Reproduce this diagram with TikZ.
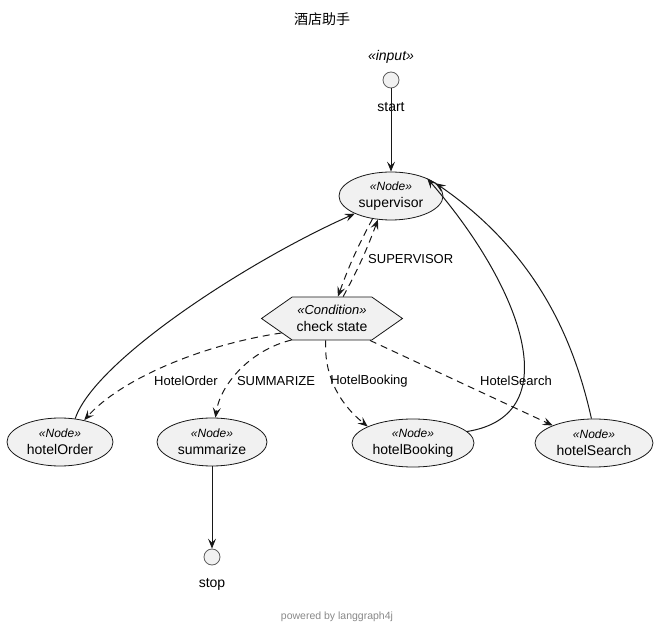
\documentclass[tikz,border=0pt]{standalone}
\usepackage{fontspec}
\setmainfont{Liberation Sans}
\newfontfamily\cjk{Noto Sans CJK SC}
\usetikzlibrary{shapes.geometric,shapes.symbols,arrows.meta}
\definecolor{nodefill}{HTML}{F1F1F1}
\definecolor{nodeline}{HTML}{181818}
\definecolor{footgray}{HTML}{888888}
\newcommand{\stlabel}[2][12]{{\fontsize{#1}{14}\selectfont\itshape «#2»}}

\begin{document}
\begin{tikzpicture}[x=1pt,y=-1pt,
                    every node/.style={font=\fontsize{14}{17}\selectfont},
                    graphnode/.style={ellipse,draw=nodeline,fill=nodefill,line width=0.8pt,inner sep=0pt,minimum height=48pt,align=center},
                    condnode/.style={signal,signal to=west and east,signal pointer angle=70,draw=nodeline,fill=nodefill,line width=0.8pt,inner sep=0pt,minimum width=141pt,minimum height=43pt,align=center},
                    endpoint/.style={circle,draw=nodeline!70,fill=nodefill,line width=0.8pt,inner sep=0pt,minimum size=16pt},
                    edgelabel/.style={font=\fontsize{13}{15}\selectfont,inner sep=1pt},
                    flow/.style={draw=nodeline,line width=1pt,-{Stealth[length=10pt,width=8pt,inset=4pt]}},
                    condflow/.style={flow,dash pattern=on 7pt off 5pt}
]
\useasboundingbox (0,0) rectangle (657,628);

% Draw the title
\node (title) at (322,19) {\cjk 酒店助手};

% Draw the start and stop points
\node [endpoint] at (391,80) (start) {};
\node at (391,57) (startst) {\stlabel[14]{input}};
\node at (391,107) (startlbl) {start};
\node [endpoint] at (212,557) (stop) {};
\node at (212,584) (stoplbl) {stop};

% Draw the graph nodes
\node [graphnode,minimum width=104pt] at (391,196) (super) {\stlabel{Node}\\supervisor};
\node [condnode] at (332,318.5) (check) {\stlabel[13]{Condition}\\check state};
\node [graphnode,minimum width=106pt] at (60,442) (order) {\stlabel{Node}\\hotelOrder};
\node [graphnode,minimum width=110pt] at (212,442) (summ) {\stlabel{Node}\\summarize};
\node [graphnode,minimum width=122pt] at (413,443) (booking) {\stlabel{Node}\\hotelBooking};
\node [graphnode,minimum width=118pt] at (594,443) (search) {\stlabel{Node}\\hotelSearch};

% Draw the plain edges
\draw [flow] (start) -- (super);
\draw [flow] (summ) -- (stop);

% Draw the conditional edges
\draw [condflow] (super.231) to[bend right=4] (check.75);
\draw [condflow] (check.63) to[bend right=4] (super.241);
\node [edgelabel,anchor=west] at (367,259) (lblsuper) {SUPERVISOR};
\draw [condflow] (check.196) .. controls (200,345) and (120,380) .. (order.42);
\node [edgelabel] at (186,381) (lblorder) {HotelOrder};
\draw [condflow] (check.208) .. controls (250,350) and (220,385) .. (summ.82);
\node [edgelabel] at (276,381) (lblsumm) {SUMMARIZE};
\draw [condflow] (check.254) .. controls (324,370) and (335,400) .. (booking.160);
\node [edgelabel] at (369,381) (lblbooking) {HotelBooking};
\draw [condflow] (check.-30) -- (search.157);
\node [edgelabel] at (516,381) (lblsearch) {HotelSearch};

% Draw the edges back to the supervisor
\draw [flow] (order.57) .. controls (95,360) and (250,260) .. (super.206);
\draw [flow] (booking.12) .. controls (570,415) and (520,285) .. (super.26);
\draw [flow] (search.96) .. controls (575,345) and (540,255) .. (super.16);

% Draw the footer
\node [font=\fontsize{10.5}{12}\selectfont,text=footgray] at (337,617) (footer) {powered by langgraph4j};

\end{tikzpicture}
\end{document}
